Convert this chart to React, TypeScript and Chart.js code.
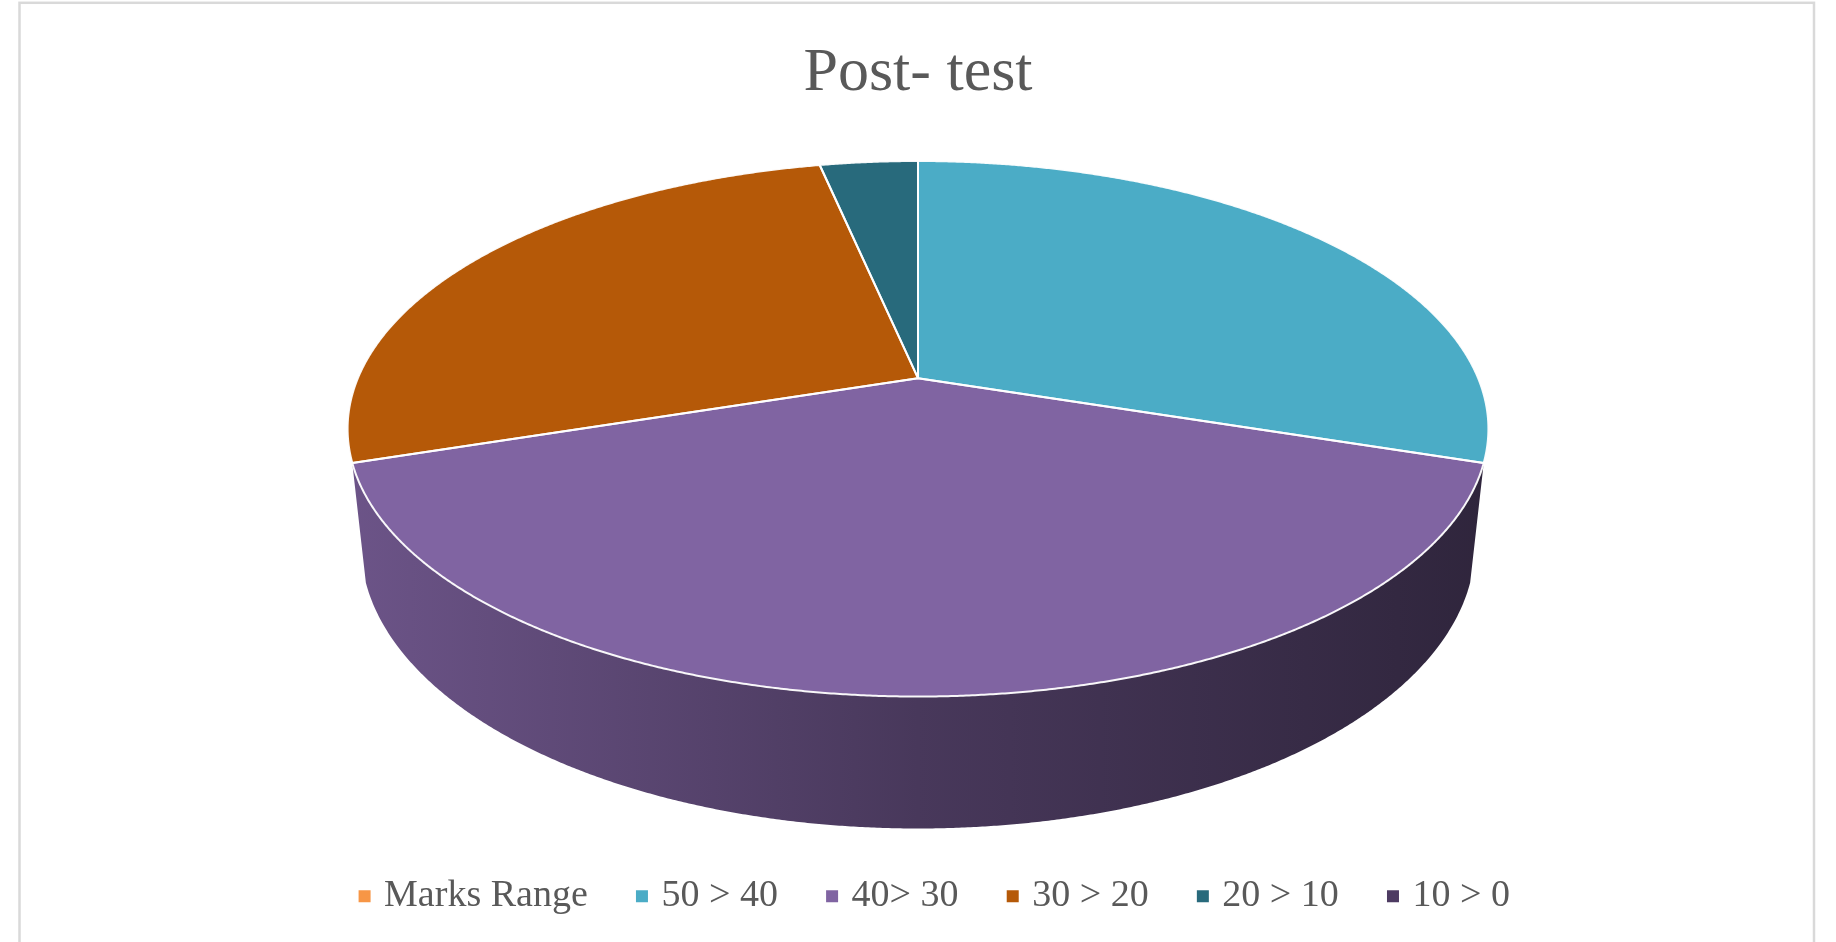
import React, { useEffect, useRef } from "react";
import { Chart, registerables } from "chart.js";

Chart.register(...registerables);

// ---- data ----
const chartTitle = "Post- test";
const categories = ["Marks Range", "50 > 40", "40> 30", "30 > 20", "20 > 10", "10 > 0"];
const studentCounts = [0, 9, 12, 8, 1, 0];
const sliceColors = ["#F79646", "#4BACC6", "#8064A2", "#B55908", "#286A7C", "#4D3B62"];

// ---- style ----
const CAM_ELEVATION_DEG = 27.45;
const CAM_DISTANCE = 4.7; // in pie radii
const PIE_DEPTH = 0.2364; // in pie radii
const SIDE_FRONT_FROM_DEG = 18; // side wall shown between this angle and 180 minus it
const SIDE_SHADE = [0.84, 0.56, 0.37];
const LEGEND_SHIFT_X = 19;
const LEGEND_SHIFT_Y = -5;
const TEXT_COLOR = "#595959";
const FONT = "'Liberation Serif', 'Times New Roman', serif";

function rgbOf(c: string): number[] {
  if (c.startsWith("#")) {
    const n = parseInt(c.slice(1), 16);
    return [(n >> 16) & 255, (n >> 8) & 255, n & 255];
  }
  const m = c.match(/[\d.]+/g) || ["0", "0", "0"];
  return m.slice(0, 3).map(Number);
}
function shade(c: string, f: number) {
  const [r, g, b] = rgbOf(c);
  return `rgb(${Math.round(r * f)},${Math.round(g * f)},${Math.round(b * f)})`;
}

const framePlugin = {
  id: "frame",
  beforeDraw(chart: any) {
    const ctx: CanvasRenderingContext2D = chart.ctx;
    ctx.save();
    ctx.strokeStyle = "#D9D9D9";
    ctx.lineWidth = 2.5;
    ctx.strokeRect(19.5, 2.8, chart.width - 41.5, chart.height + 200);
    ctx.restore();
  },
};

const legendShiftPlugin = {
  id: "legendShift",
  afterLayout(chart: any) {
    const lg = chart.legend;
    if (lg) {
      lg.left += LEGEND_SHIFT_X;
      lg.right += LEGEND_SHIFT_X;
      lg.top += LEGEND_SHIFT_Y;
      lg.bottom += LEGEND_SHIFT_Y;
    }
  },
};

const pie3dPlugin = {
  id: "pie3d",
  beforeDatasetsDraw(chart: any) {
    const meta = chart.getDatasetMeta(0);
    const arcs: any[] = meta.data;
    if (!arcs || !arcs.length) return false;
    const ctx: CanvasRenderingContext2D = chart.ctx;
    const cx = arcs[0].x;
    const cy = arcs[0].y;
    const R = arcs[0].outerRadius;
    const el = (CAM_ELEVATION_DEG * Math.PI) / 180;
    const se = Math.sin(el);
    const ce = Math.cos(el);
    const D = CAM_DISTANCE;
    const H = PIE_DEPTH;
    const raw = (th: number, z: number) => {
      const u = Math.cos(th);
      const v = -Math.sin(th);
      const zc = D + v * ce - z * se;
      const yc = v * se + z * ce;
      return [u / zc, -yc / zc];
    };
    let minX = Infinity, maxX = -Infinity, minY = Infinity, maxY = -Infinity;
    for (let i = 0; i < 1440; i++) {
      const th = (i / 1440) * Math.PI * 2;
      for (const z of [0, -H]) {
        const [x, y] = raw(th, z);
        minX = Math.min(minX, x);
        maxX = Math.max(maxX, x);
        minY = Math.min(minY, y);
        maxY = Math.max(maxY, y);
      }
    }
    const f = (2 * R) / (maxY - minY);
    const ox = cx - (f * (minX + maxX)) / 2;
    const oy = cy - (f * (minY + maxY)) / 2;
    const pt = (th: number, z: number) => {
      const [x, y] = raw(th, z);
      return [ox + f * x, oy + f * y];
    };
    const left = ox + f * minX;
    const right = ox + f * maxX;
    const arcPath = (a: number, b: number, z: number, move: boolean) => {
      const n = Math.max(2, Math.ceil(Math.abs(b - a) / (Math.PI / 720)));
      for (let i = 0; i <= n; i++) {
        const [x, y] = pt(a + ((b - a) * i) / n, z);
        if (i === 0 && move) ctx.moveTo(x, y);
        else ctx.lineTo(x, y);
      }
    };
    const frontFrom = (SIDE_FRONT_FROM_DEG * Math.PI) / 180;
    const frontTo = Math.PI - frontFrom;

    ctx.save();
    // side walls
    arcs.forEach((arc: any) => {
      const { startAngle: s, endAngle: e } = arc.getProps(["startAngle", "endAngle"], true);
      if (e - s < 1e-6) return;
      const a = Math.max(s, frontFrom);
      let b = Math.min(e, frontTo);
      if (b <= a) return;
      if (b < frontTo) b = Math.min(frontTo, b + 0.004);
      const base = arc.options.backgroundColor as string;
      const g = ctx.createLinearGradient(left, 0, right, 0);
      g.addColorStop(0, shade(base, SIDE_SHADE[0]));
      g.addColorStop(0.5, shade(base, SIDE_SHADE[1]));
      g.addColorStop(1, shade(base, SIDE_SHADE[2]));
      ctx.beginPath();
      arcPath(a, b, 0, true);
      arcPath(b, a, -H, false);
      ctx.closePath();
      ctx.fillStyle = g;
      ctx.fill();
    });
    // top faces
    const topPath = (s: number, e: number) => {
      ctx.beginPath();
      ctx.moveTo(ox, oy);
      arcPath(s, e, 0, false);
      ctx.closePath();
    };
    arcs.forEach((arc: any) => {
      const { startAngle: s, endAngle: e } = arc.getProps(["startAngle", "endAngle"], true);
      if (e - s < 1e-6) return;
      topPath(s, e);
      ctx.fillStyle = arc.options.backgroundColor;
      ctx.fill();
    });
    ctx.strokeStyle = "rgba(255,255,255,0.95)";
    ctx.lineWidth = 2;
    ctx.lineJoin = "round";
    arcs.forEach((arc: any) => {
      const { startAngle: s, endAngle: e } = arc.getProps(["startAngle", "endAngle"], true);
      if (e - s < 1e-6) return;
      topPath(s, e);
      ctx.stroke();
    });
    ctx.restore();
    return false;
  },
};

export default function App() {
  const ref = useRef<HTMLCanvasElement>(null);
  useEffect(() => {
    if (!ref.current) return;
    const chart = new Chart(ref.current, {
      type: "pie",
      data: {
        labels: categories,
        datasets: [
          {
            data: studentCounts,
            backgroundColor: sliceColors,
            borderWidth: 0,
          },
        ],
      },
      options: {
        responsive: false,
        animation: false,
        layout: { padding: { top: 0, bottom: 11.8, left: 0, right: 0 } },
        plugins: {
          title: {
            display: true,
            text: chartTitle,
            color: TEXT_COLOR,
            font: { family: FONT, size: 62, weight: "normal", lineHeight: 1.2 },
            padding: { top: 37, bottom: 49.6 },
          },
          legend: {
            display: true,
            position: "bottom",
            labels: {
              usePointStyle: true,
              pointStyle: "rect",
              boxWidth: 1,
              boxHeight: 12,
              padding: 53.7,
              color: TEXT_COLOR,
              font: { family: FONT, size: 38 },
            },
          },
          tooltip: { enabled: false },
        },
      } as any,
      plugins: [framePlugin, legendShiftPlugin, pie3dPlugin],
    });
    return () => chart.destroy();
  }, []);
  return (
    <div style={{ position: "absolute", left: 0, top: 0, width: 1836, height: 942, background: "#ffffff" }}>
      <canvas ref={ref} width={1836} height={942} style={{ display: "block" }} />
    </div>
  );
}
